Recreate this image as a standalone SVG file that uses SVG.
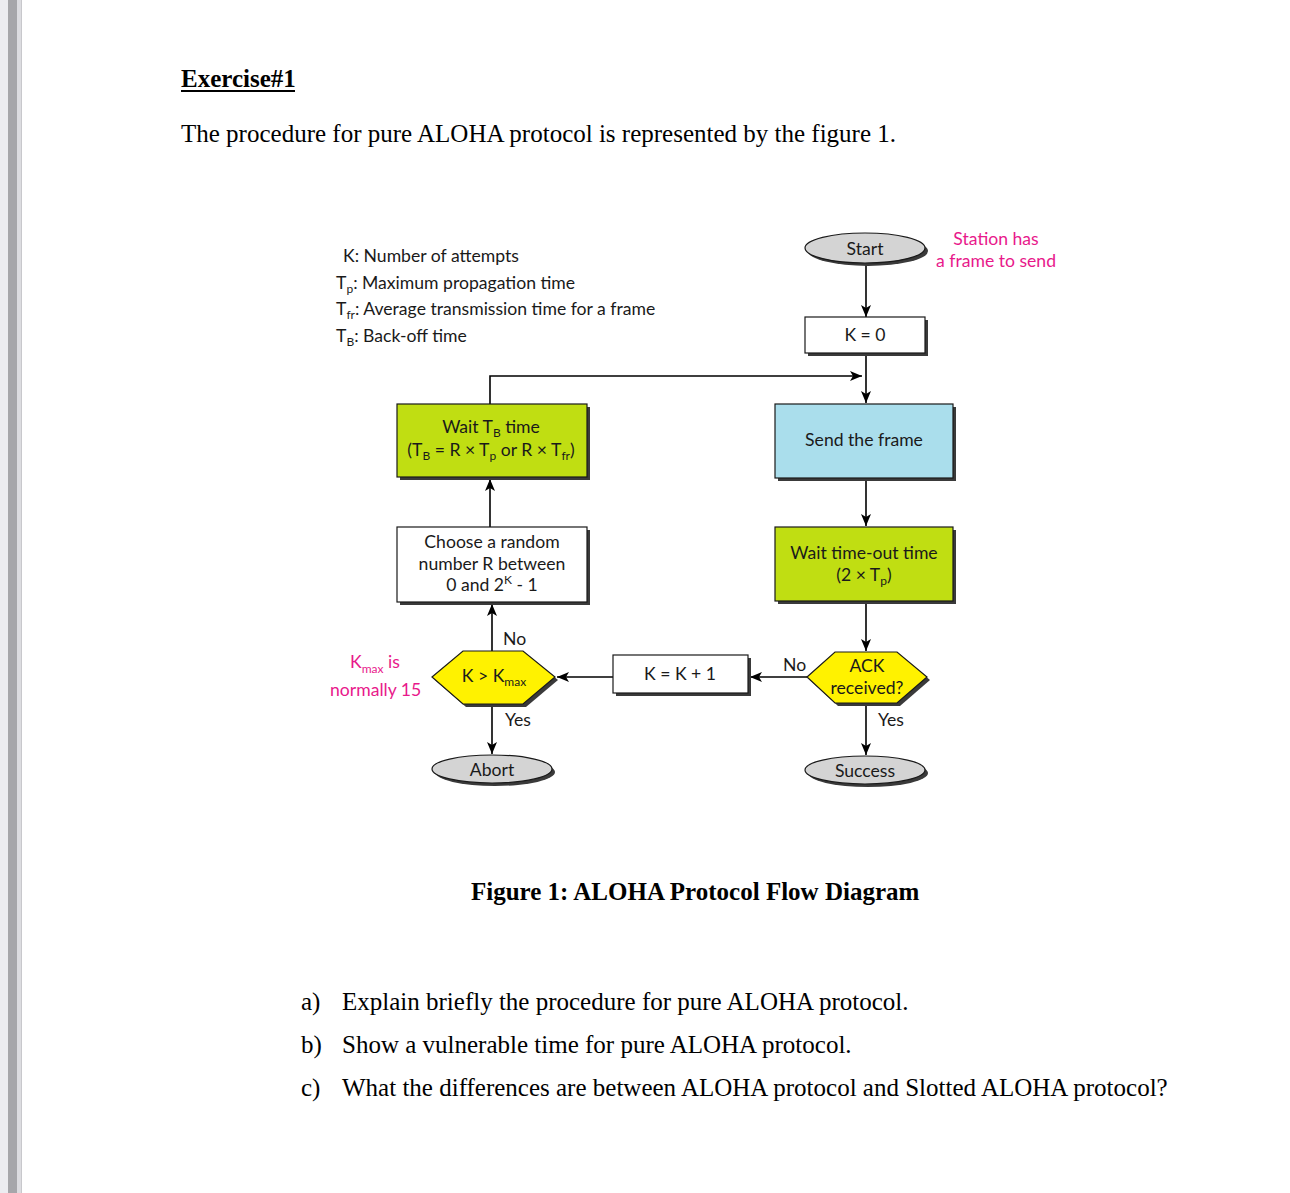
<svg xmlns="http://www.w3.org/2000/svg" width="1290" height="1193" viewBox="0 0 1290 1193">
<style>
.doc{font-family:"Liberation Serif","Times New Roman",serif;font-size:25px;fill:#000}
.b{font-weight:bold}
.d{font-family:Lato,"Liberation Sans",sans-serif;font-size:17.6px;fill:#1a1a1a}
.pk{fill:#e8198b}
.sub{font-size:12px}
.box{stroke:#1a1a1a;stroke-width:1.2}
.sh{fill:#3a3a3a}
.ln{stroke:#000;stroke-width:1.6;fill:none}
</style>
<defs>
<marker id="ah" viewBox="0 0 12 10" refX="12" refY="5" markerWidth="12" markerHeight="10" markerUnits="userSpaceOnUse" orient="auto">
<path d="M0,0 L12,5 L0,10 L3,5 z" fill="#000"/>
</marker>
</defs>
<rect x="0" y="0" width="1290" height="1193" fill="#fff"/>
<rect x="0" y="0" width="8" height="1193" fill="#ececf0"/>
<rect x="8" y="0" width="9" height="1193" fill="#a6a6aa"/>
<rect x="17" y="0" width="4" height="1193" fill="#dcdce0"/>
<rect x="21" y="0" width="1" height="1193" fill="#c8c8cc"/>

<g id="header">
<text class="doc b" x="181" y="87">Exercise#1</text>
<rect x="181" y="90" width="114" height="2" fill="#000"/>
<text class="doc" x="181" y="142">The procedure for pure ALOHA protocol is represented by the figure 1.</text>
</g>

<g id="legend" class="d">
<text x="343" y="262">K: Number of attempts</text>
<text x="336" y="289">T<tspan class="sub" dy="4">p</tspan><tspan dy="-4">: Maximum propagation time</tspan></text>
<text x="336" y="315">T<tspan class="sub" dy="4">fr</tspan><tspan dy="-4">: Average transmission time for a frame</tspan></text>
<text x="336" y="342">T<tspan class="sub" dy="4">B</tspan><tspan dy="-4">: Back-off time</tspan></text>
</g>

<g id="connectors">
<line class="ln" x1="866" y1="264" x2="866" y2="317" marker-end="url(#ah)"/>
<line class="ln" x1="866" y1="354" x2="866" y2="403" marker-end="url(#ah)"/>
<polyline class="ln" points="490,404 490,376 862,376" marker-end="url(#ah)"/>
<line class="ln" x1="866" y1="479" x2="866" y2="526" marker-end="url(#ah)"/>
<line class="ln" x1="866" y1="602" x2="866" y2="651" marker-end="url(#ah)"/>
<line class="ln" x1="807" y1="677" x2="750" y2="677" marker-end="url(#ah)"/>
<line class="ln" x1="613" y1="677" x2="557" y2="677" marker-end="url(#ah)"/>
<line class="ln" x1="492" y1="651" x2="492" y2="604" marker-end="url(#ah)"/>
<line class="ln" x1="490" y1="527" x2="490" y2="479" marker-end="url(#ah)"/>
<line class="ln" x1="492" y1="705" x2="492" y2="754" marker-end="url(#ah)"/>
<line class="ln" x1="866" y1="704" x2="866" y2="755" marker-end="url(#ah)"/>
</g>

<g id="start">
<ellipse class="sh" cx="868" cy="251" rx="60" ry="15"/>
<ellipse class="box" cx="865" cy="248" rx="60" ry="15" fill="#d4d4d4"/>
<text class="d" x="865" y="255" text-anchor="middle">Start</text>
</g>
<g id="station-note" class="d pk">
<text x="996" y="245" text-anchor="middle">Station has</text>
<text x="996" y="267" text-anchor="middle">a frame to send</text>
</g>

<g id="k0">
<rect class="sh" x="808" y="320" width="120" height="36"/>
<rect class="box" x="805" y="317" width="120" height="36" fill="#fff"/>
<text class="d" x="865" y="341" text-anchor="middle">K = 0</text>
</g>

<g id="send">
<rect class="sh" x="778" y="407" width="178" height="74"/>
<rect class="box" x="775" y="404" width="178" height="74" fill="#aadeec"/>
<text class="d" x="864" y="446" text-anchor="middle">Send the frame</text>
</g>

<g id="wait-timeout">
<rect class="sh" x="778" y="530" width="178" height="74"/>
<rect class="box" x="775" y="527" width="178" height="74" fill="#c0de12"/>
<text class="d" x="864" y="559" text-anchor="middle">Wait time-out time</text>
<text class="d" x="864" y="581" text-anchor="middle">(2 × T<tspan class="sub" dy="4">p</tspan><tspan dy="-4">)</tspan></text>
</g>

<g id="wait-tb">
<rect class="sh" x="400" y="407" width="190" height="73"/>
<rect class="box" x="397" y="404" width="190" height="73" fill="#c0de12"/>
<text class="d" x="491" y="433" text-anchor="middle">Wait T<tspan class="sub" dy="4">B</tspan><tspan dy="-4"> time</tspan></text>
<text class="d" x="491" y="456" text-anchor="middle">(T<tspan class="sub" dy="4">B</tspan><tspan dy="-4"> = R × T</tspan><tspan class="sub" dy="4">p</tspan><tspan dy="-4"> or R × T</tspan><tspan class="sub" dy="4">fr</tspan><tspan dy="-4">)</tspan></text>
</g>

<g id="choose">
<rect class="sh" x="400" y="530" width="190" height="75"/>
<rect class="box" x="397" y="527" width="190" height="75" fill="#fff"/>
<text class="d" x="492" y="548" text-anchor="middle">Choose a random</text>
<text class="d" x="492" y="570" text-anchor="middle">number R between</text>
<text class="d" x="492" y="591" text-anchor="middle">0 and 2<tspan class="sub" dy="-7">K</tspan><tspan dy="7"> - 1</tspan></text>
</g>

<g id="kmax-decision">
<polygon class="sh" points="435,680 466,654 526,654 558,680 526,707 466,707"/>
<polygon class="box" points="432,677 463,651 523,651 555,677 523,704 463,704" fill="#fff200"/>
<text class="d" x="494" y="682" text-anchor="middle">K &gt; K<tspan class="sub" dy="4">max</tspan></text>
<text class="d" x="503" y="645">No</text>
<text class="d" x="505" y="726">Yes</text>
</g>
<g id="kmax-note" class="d pk">
<text x="350" y="668">K<tspan class="sub" dy="5">max</tspan><tspan dy="-5"> is</tspan></text>
<text x="330" y="696">normally 15</text>
</g>

<g id="kinc">
<rect class="sh" x="616" y="658" width="135" height="38"/>
<rect class="box" x="613" y="655" width="135" height="38" fill="#fff"/>
<text class="d" x="680" y="680" text-anchor="middle">K = K + 1</text>
</g>

<g id="ack-decision">
<polygon class="sh" points="810,680 838,655 900,655 930,680 900,706 838,706"/>
<polygon class="box" points="807,677 835,652 897,652 927,677 897,703 835,703" fill="#fff200"/>
<text class="d" x="867" y="672" text-anchor="middle">ACK</text>
<text class="d" x="867" y="694" text-anchor="middle">received?</text>
<text class="d" x="783" y="671">No</text>
<text class="d" x="878" y="726">Yes</text>
</g>

<g id="abort">
<ellipse class="sh" cx="495" cy="772" rx="60" ry="14"/>
<ellipse class="box" cx="492" cy="769" rx="60" ry="14" fill="#d4d4d4"/>
<text class="d" x="492" y="776" text-anchor="middle">Abort</text>
</g>

<g id="success">
<ellipse class="sh" cx="868" cy="773" rx="60" ry="14"/>
<ellipse class="box" cx="865" cy="770" rx="60" ry="14" fill="#d4d4d4"/>
<text class="d" x="865" y="777" text-anchor="middle">Success</text>
</g>

<g id="caption">
<text class="doc b" x="471" y="900">Figure 1: ALOHA Protocol Flow Diagram</text>
</g>

<g id="questions" class="doc">
<text x="301" y="1010">a)</text><text x="342" y="1010">Explain briefly the procedure for pure ALOHA protocol.</text>
<text x="301" y="1053">b)</text><text x="342" y="1053">Show a vulnerable time for pure ALOHA protocol.</text>
<text x="301" y="1096">c)</text><text x="342" y="1096">What the differences are between ALOHA protocol and Slotted ALOHA protocol?</text>
</g>
</svg>
